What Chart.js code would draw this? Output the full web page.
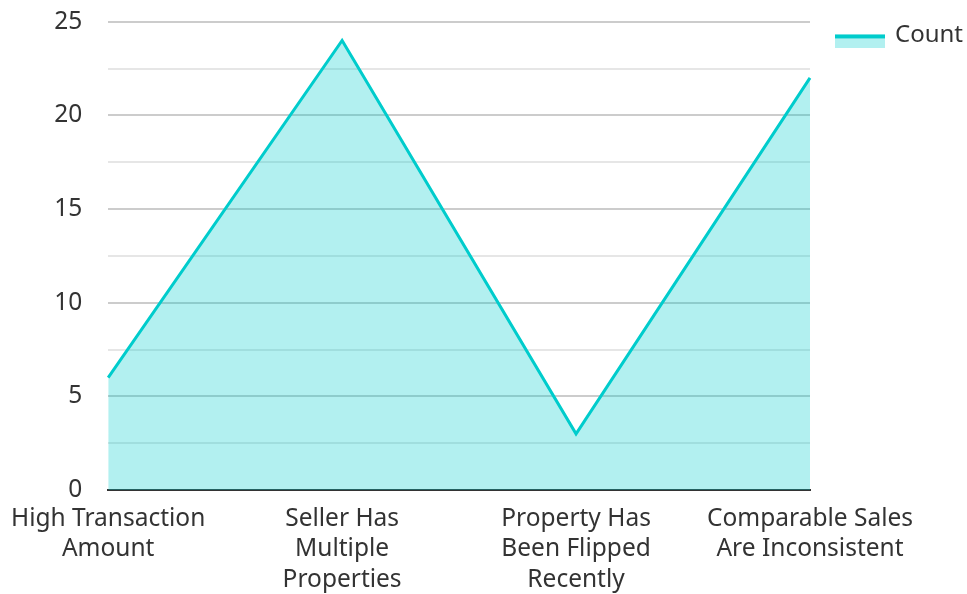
<!DOCTYPE html>
<html>
<head>
<meta charset="utf-8">
<script src="https://cdn.jsdelivr.net/npm/chart.js@4"></script>
<style>
    html, body { margin: 0; padding: 0; background: #fff; }
    #wrap { width: 967px; height: 594px; }
</style>
</head>
<body>
<div id="wrap"><canvas id="chart" width="967" height="594"></canvas></div>
<script>
const categories = [
    ['High Transaction', 'Amount'],
    ['Seller Has', 'Multiple', 'Properties'],
    ['Property Has', 'Been Flipped', 'Recently'],
    ['Comparable Sales', 'Are Inconsistent']
];
const countValues = [6, 24, 3, 22];
const seriesName = 'Count';
const yMin = 0;
const yMax = 25;
const yStep = 2.5;

const lineColor = 'rgb(0, 204, 204)';
const fillColor = 'rgba(0, 204, 204, 0.3)';

// legend swatch: thick line on top, light fill under it (transparent margin left/top for placement)
function makeSwatch() {
    const c = document.createElement('canvas');
    c.width = 70;
    c.height = 26;
    const g = c.getContext('2d');
    g.fillStyle = fillColor;
    g.fillRect(20, 15, 50, 11);
    g.fillStyle = lineColor;
    g.fillRect(20, 12, 50, 4);
    return c;
}
const swatch = makeSwatch();

Chart.defaults.font.family = '"Noto Sans", "Open Sans", sans-serif';
Chart.defaults.font.size = 24.5;
Chart.defaults.color = '#333';

new Chart(document.getElementById('chart').getContext('2d'), {
    type: 'line',
    data: {
        labels: categories,
        datasets: [{
            label: seriesName,
            data: countValues,
            borderColor: lineColor,
            backgroundColor: fillColor,
            borderWidth: 3,
            fill: 'origin',
            tension: 0,
            pointRadius: 0,
            pointHoverRadius: 0
        }]
    },
    options: {
        responsive: false,
        animation: false,
        layout: { padding: { top: 0, right: 0, left: 0, bottom: -15 } },
        plugins: {
            tooltip: { enabled: false },
            legend: {
                position: 'right',
                align: 'start',
                maxWidth: 157,
                title: { display: true, text: '', font: { size: 12 }, padding: { top: 0, bottom: 2 } },
                labels: {
                    usePointStyle: true,
                    pointStyleWidth: 66,
                    boxHeight: 24,
                    padding: 7,
                    font: { size: 24 },
                    color: '#333',
                    generateLabels: chart => [{
                        text: seriesName,
                        pointStyle: swatch,
                        fillStyle: fillColor,
                        strokeStyle: lineColor,
                        lineWidth: 0,
                        datasetIndex: 0
                    }]
                }
            }
        },
        scales: {
            x: {
                offset: false,
                grid: { display: false, drawTicks: false },
                border: { display: true, color: '#333', width: 2 },
                afterFit: scale => { scale.paddingLeft -= 2; },
                ticks: {
                    maxRotation: 0,
                    autoSkip: false,
                    padding: 13,
                    font: { size: 24.5, lineHeight: 1.265 },
                    color: '#333'
                }
            },
            y: {
                min: yMin,
                max: yMax,
                grid: {
                    drawTicks: true,
                    tickLength: 19,
                    tickColor: 'rgba(0,0,0,0)',
                    color: ctx => (ctx.tick && ctx.tick.value % 5 === 0) ? '#cccccc' : '#e6e6e6',
                    lineWidth: 2
                },
                border: { display: false },
                ticks: {
                    stepSize: yStep,
                    padding: 7,
                    font: { size: 24.5 },
                    color: '#333',
                    callback: v => (v % 5 === 0 ? v : '')
                }
            }
        }
    }
});
</script>
</body>
</html>
